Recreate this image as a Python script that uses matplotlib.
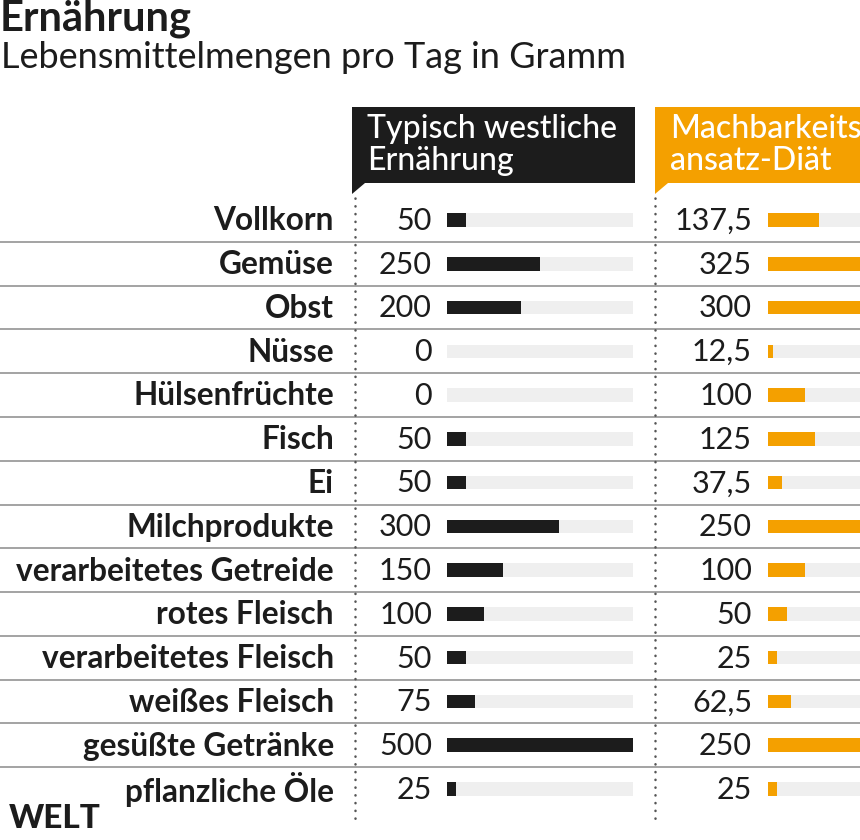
import matplotlib
matplotlib.use('Agg')
from matplotlib import pyplot as plt
from matplotlib.patches import Polygon
from matplotlib.transforms import blended_transform_factory

# data
categories = ['Vollkorn', 'Gemüse', 'Obst', 'Nüsse', 'Hülsenfrüchte', 'Fisch', 'Ei',
              'Milchprodukte', 'verarbeitetes Getreide', 'rotes Fleisch',
              'verarbeitetes Fleisch', 'weißes Fleisch', 'gesüßte Getränke',
              'pflanzliche Öle']
western = [50, 250, 200, 0, 0, 50, 50, 300, 150, 100, 50, 75, 500, 25]
diet = [137.5, 325, 300, 12.5, 100, 125, 37.5, 250, 100, 50, 25, 62.5, 250, 25]
col_titles = ['Typisch westliche\nErnährung', 'Machbarkeits-\nansatz-Diät']
max_val = 500

BLACK = '#1c1c1c'
ORANGE = '#f4a000'
TRACK = '#efefef'
LINE = '#8a8a8a'
W, H = 860, 840

plt.rcParams['font.family'] = ['Lato', 'DejaVu Sans']

fig = plt.figure(figsize=(W / 100, H / 100), dpi=100)
fig.patch.set_facecolor('white')

# background axes in pixel coordinates for decorations
bg = fig.add_axes([0, 0, 1, 1])
bg.set_xlim(0, W)
bg.set_ylim(H, 0)
bg.axis('off')

n = len(categories)
row_h = 43.77
top = 220 - row_h / 2
bottom = top + n * row_h


def bar_axes(x0):
    ax = fig.add_axes([x0 / W, 1 - bottom / H, 186 / W, (bottom - top) / H])
    ax.set_xlim(0, max_val)
    ax.set_ylim(n - 0.5, -0.5)
    ax.axis('off')
    return ax


ax_w = bar_axes(447)
ax_d = bar_axes(768)
rows = list(range(n))

for ax, vals, color in [(ax_w, western, BLACK), (ax_d, diet, ORANGE)]:
    ax.barh(rows, [max_val] * n, height=0.31, color=TRACK, zorder=1)
    ax.barh(rows, vals, height=0.31, color=color, zorder=2)

tr = blended_transform_factory(bg.transData, ax_w.transData)


def fmt(v):
    s = ('%g' % v)
    return s.replace('.', ',')


for i, cat in enumerate(categories):
    bg.text(334, i + 0.02, cat, transform=tr, ha='right', va='center',
            fontsize=22.8, fontweight='bold', color=BLACK)
    bg.text(432, i + 0.02, fmt(western[i]), transform=tr, ha='right', va='center',
            fontsize=22, color=BLACK)
    bg.text(752, i + 0.02, fmt(diet[i]), transform=tr, ha='right', va='center',
            fontsize=22, color=BLACK)

# row separators
for i in range(n - 1):
    bg.plot([0, W], [i + 0.5, i + 0.5], transform=tr, color=LINE, lw=1.1,
            solid_capstyle='butt', zorder=1)

# dotted column separators
for x in (355, 655):
    bg.plot([x, x], [-0.5, n - 0.25], transform=tr, color='#555555', lw=1.8,
            linestyle=(0, (0.1, 3.0)), dash_capstyle='round', zorder=1)

# column headers with speech-bubble tails
for (x0, x1), color, title in [((352, 635), BLACK, col_titles[0]),
                               ((655, 880), ORANGE, col_titles[1])]:
    bg.add_patch(Polygon([(x0, 107), (x1, 107), (x1, 183), (x0 + 13, 183),
                          (x0, 194)], closed=True, color=color, lw=0))
    bg.text(x0 + 15, 145, title, ha='left', va='center', fontsize=23,
            color='white', linespacing=1.12, fontweight='medium')

bg.text(0, 30, 'Ernährung', ha='left', va='baseline', fontsize=30,
        fontweight='bold', color=BLACK)
bg.text(1, 58, 'Lebensmittelmengen pro Tag in Gramm', ha='left', va='center',
        fontsize=26, color=BLACK)
bg.text(9, 818, 'WELT', ha='left', va='center', fontsize=24,
        fontweight='black', color=BLACK)

fig.savefig('out.png', dpi=100)
